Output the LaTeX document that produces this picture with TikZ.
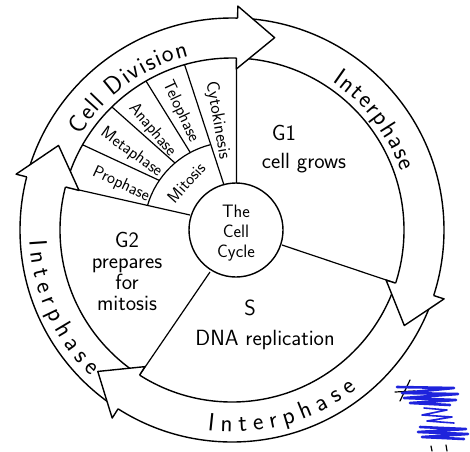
\documentclass[tikz,border=0pt]{standalone}
\usepackage{tikz}
\usetikzlibrary{decorations.text}
\definecolor{inkblue}{RGB}{30,35,220}
\tikzstyle{ring} = [line width=1.4pt, draw=black, line join=round]
\tikzstyle{divider} = [line width=1.2pt, draw=black]
\tikzstyle{stage} = [font=\sffamily\fontsize{22}{21}\selectfont, align=center, inner sep=0pt]
\tikzstyle{hubtext} = [font=\sffamily\fontsize{18}{20}\selectfont, align=center, inner sep=0pt]
\tikzstyle{phase} = [font=\sffamily\fontsize{17}{17}\selectfont, inner sep=0pt]
\tikzstyle{scribble} = [line width=2.6pt, draw=inkblue, line join=round, line cap=round]
\tikzstyle{penstroke} = [line width=1.2pt, draw=black, line cap=round]
\newcommand{\bandfont}{\sffamily\fontsize{25}{25}\selectfont}

\begin{document}
\begin{tikzpicture}[x=1pt, y=1pt]
\useasboundingbox (-232,-221) rectangle (238,230);

% ring and disc
\draw [ring] (0,0) circle[radius=212pt];
\draw [ring] (0,0) circle[radius=172pt];

% stage dividers
\draw [divider] (4.5,47) -- (88.5:172);
\draw [divider] (50,-15) -- (-18:172);
\draw [divider] (-22,-42) -- (237.5:172);
\draw [divider] (-42,15) -- (165.5:172);
\draw [divider] (-8,45) -- (106:172);
\draw [divider] (163.7:88) arc[start angle=163.7, end angle=104.3, radius=88pt];
\draw [divider] (145.7:88) -- (150.3:172);
\draw [divider] (130.4:88) -- (134.3:172);
\draw [divider] (118.3:88) -- (120:172);
\draw [ring] (4,0) circle[radius=47pt];

% arrow heads
\draw [ring, fill=white] (88.5:212) -- (88.5:224) -- (77.5:197) -- (88.5:161) -- (88.5:172);
\draw [ring, fill=white] (-18:212) -- (-18:223) -- (-29:197) -- (-18:162) -- (-18:172);
\draw [ring, fill=white] (237.5:212) -- (237.5:223) -- (226.5:195) -- (237.5:162) -- (237.5:172);
\draw [ring, fill=white] (165.5:212) -- (165.5:223) -- (154:193) -- (165.5:158) -- (165.5:172);

% band labels
\path [decorate, decoration={text along path, text={|\bandfont|Cell Division}, text align={fit to path}}]
  (148:179) arc[start angle=148, end angle=104, radius=179pt];
\path [decorate, decoration={text along path, text={|\bandfont|Interphase}, text align={fit to path}}]
  (56:179) arc[start angle=56, end angle=19, radius=179pt];
\path [decorate, decoration={text along path, text={|\bandfont|Interphase}, text align={fit to path}}]
  (263:202) arc[start angle=263, end angle=308, radius=202pt];
\path [decorate, decoration={text along path, text={|\bandfont|Interphase}, text align={fit to path}}]
  (183:203) arc[start angle=183, end angle=226, radius=203pt];

% stage labels
\node (hub) [hubtext] at (4,-3) {The\\Cell\\Cycle};
\node (g1) [stage] at (52,97) {G1};
\node (g1text) [stage] at (72,67) {cell grows};
\node (s) [stage] at (18,-78) {S};
\node (stext) [stage] at (33,-110) {DNA replication};
\node (g2) [stage] at (-105,-41) {G2\\prepares\\for\\mitosis};

% mitosis phases
\node (prophase) [phase, rotate=-25] at (157.6:120) {Prophase};
\node (metaphase) [phase, rotate=-36] at (142.4:127) {Metaphase};
\node (anaphase) [phase, rotate=-50] at (128.5:128) {Anaphase};
\node (telophase) [phase, rotate=-65] at (113.5:129) {Telophase};
\node (cytokinesis) [phase, rotate=-80, font=\sffamily\fontsize{18}{18}\selectfont] at (97.5:111) {Cytokinesis};
\node (mitosis) [phase, rotate=48] at (134:66) {Mitosis};

% crossed out note
\draw [penstroke] (163,-162) -- (183,-161);
\draw [penstroke] (168,-171) -- (178,-150);
\draw [penstroke] (199,-216) -- (200,-221);
\draw [penstroke] (214,-215) -- (215,-221);
\draw [scribble] (165,-157) -- (222,-158) -- (170,-163) -- (226,-164) -- (172,-168) -- (224,-170)
  -- (178,-173) -- (218,-175);
\draw [scribble, line width=1.6pt] (192,-178) -- (215,-180) -- (190,-185) -- (220,-187) -- (195,-191) -- (222,-193);
\draw [scribble] (188,-197) -- (234,-199) -- (186,-202) -- (236,-204) -- (190,-207) -- (232,-209);
\end{tikzpicture}
\end{document}
